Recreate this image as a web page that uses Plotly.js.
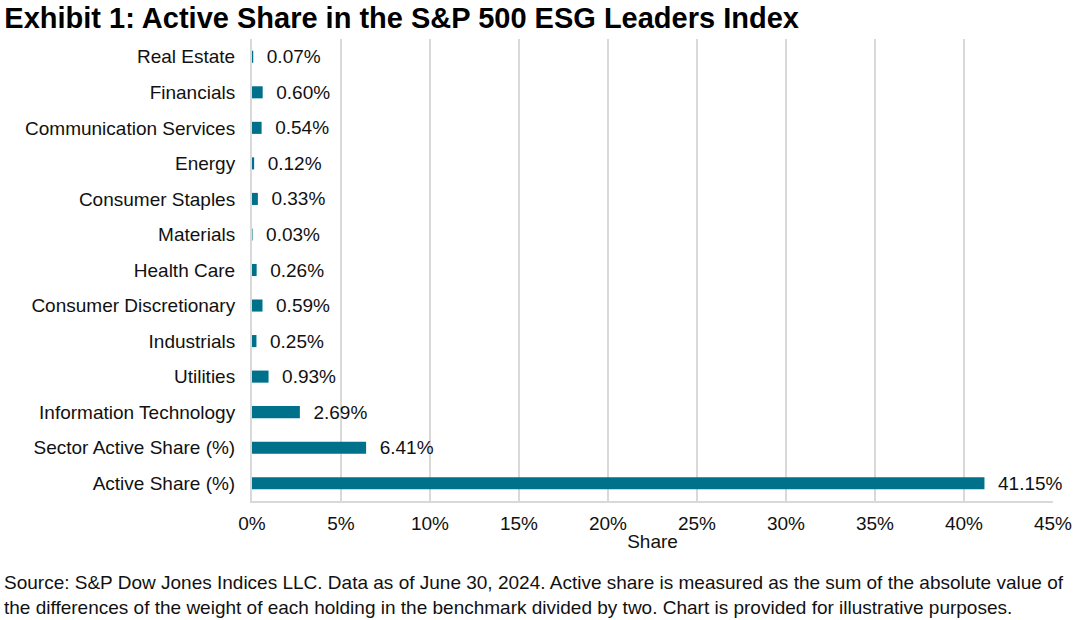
<!DOCTYPE html>
<html>
<head>
<meta charset="utf-8">
<script src="https://cdn.plot.ly/plotly-3.0.1.min.js"></script>
<style>
  html, body { margin: 0; padding: 0; background: #fff; }
  #chart { width: 1092px; height: 620px; }
</style>
</head>
<body>
<div id="chart"></div>
<script>
    "use strict";

    // top to bottom as in the exhibit
    const sectors = [
        "Real Estate", "Financials", "Communication Services", "Energy",
        "Consumer Staples", "Materials", "Health Care", "Consumer Discretionary",
        "Industrials", "Utilities", "Information Technology",
        "Sector Active Share (%)", "Active Share (%)"
    ];
    const shares = [0.07, 0.60, 0.54, 0.12, 0.33, 0.03, 0.26, 0.59, 0.25, 0.93, 2.69, 6.41, 41.15];
    const xTicks = [0, 5, 10, 15, 20, 25, 30, 35, 40, 45];

    const font = "Arial, 'Liberation Sans', sans-serif";

    const trace = {
        type: "bar",
        orientation: "h",
        y: sectors,
        x: shares,
        width: 0.34,
        marker: { color: "#00718a" },
        text: shares.map((v) => "\u00a0\u00a0" + v.toFixed(2) + "%"),
        textposition: "outside",
        constraintext: "none",
        cliponaxis: false,
        textfont: { family: font, size: 19, color: "#111" },
        hoverinfo: "skip",
    };

    const layout = {
        width: 1092,
        height: 620,
        margin: { l: 252, r: 39, t: 39, b: 119 },
        paper_bgcolor: "#fff",
        plot_bgcolor: "#fff",
        font: { family: font, color: "#111" },
        showlegend: false,
        title: {
            text: "<b>Exhibit 1: Active Share in the S&P 500 ESG Leaders Index</b>",
            font: { family: font, size: 29, color: "#000" },
            x: 0.004, xanchor: "left", xref: "container",
            y: 0.971, yanchor: "middle", yref: "container",
        },
        xaxis: {
            range: [0, 45],
            tickvals: xTicks,
            ticktext: xTicks.map((t) => t + "%"),
            tickfont: { family: font, size: 19, color: "#111" },
            showgrid: true,
            gridcolor: "#d9d9d9",
            gridwidth: 2,
            zeroline: false,
            showline: true,
            linecolor: "#d9d9d9",
            linewidth: 2,
            ticks: "",
            ticklabelstandoff: 4,
            title: { text: "Share", font: { family: font, size: 19, color: "#111" }, standoff: 2 },
            fixedrange: true,
        },
        yaxis: {
            categoryorder: "array",
            categoryarray: sectors.slice().reverse(),
            autorange: false,
            range: [-0.5, sectors.length - 0.5],
            tickfont: { family: font, size: 19, color: "#111" },
            showgrid: false,
            zeroline: false,
            showline: true,
            linecolor: "#d9d9d9",
            linewidth: 2,
            ticks: "",
            ticklabelstandoff: 11,
            fixedrange: true,
        },
        annotations: [{
            xref: "paper", yref: "paper",
            x: -250 / 801, y: -0.257,
            xanchor: "left", yanchor: "bottom",
            align: "left",
            showarrow: false,
            text: "Source: S&P Dow Jones Indices LLC. Data as of June 30, 2024. Active share is measured as the sum of the absolute value of<br>the differences of the weight of each holding in the benchmark divided by two. Chart is provided for illustrative purposes.",
            font: { family: font, size: 19, color: "#111" },
        }],
    };

    Plotly.newPlot("chart", [trace], layout, { displayModeBar: false, staticPlot: true });
</script>
</body>
</html>
